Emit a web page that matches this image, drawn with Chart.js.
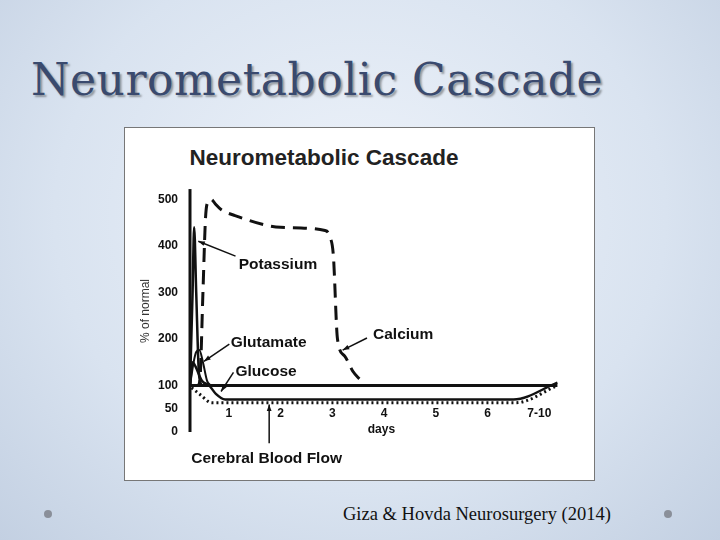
<!DOCTYPE html>
<html><head><meta charset="utf-8">
<script src="https://cdn.jsdelivr.net/npm/chart.js@4/dist/chart.umd.min.js"></script>
<style>
html,body{margin:0;padding:0;width:720px;height:540px;overflow:hidden;}
body{background:radial-gradient(ellipse at 50% 40%,#eef3fa 0%,#d9e3f0 60%,#c3d0e2 100%);position:relative;font-family:"Liberation Sans",Arial,sans-serif;}
#title{position:absolute;left:31px;top:54px;font-family:"DejaVu Serif",serif;font-size:44px;color:#3a4a6e;text-shadow:2px 2px 2px rgba(0,0,0,0.35);white-space:nowrap;letter-spacing:0.5px}
#box{position:absolute;left:124px;top:127px;width:469px;height:352px;background:#fff;border:1px solid #777;}
#ctitle{position:absolute;left:124px;width:400px;top:145px;text-align:center;font-weight:bold;font-size:22.5px;color:#222;}
#foot{position:absolute;left:343px;top:504px;font-family:"Liberation Serif",serif;font-size:18.5px;color:#111;}
.dot{position:absolute;width:8px;height:8px;border-radius:4px;background:#8a8f99;top:510px}
canvas{position:absolute;left:0;top:0}
</style></head><body>
<div id="title">Neurometabolic Cascade</div>
<div id="box"></div>
<div id="ctitle">Neurometabolic Cascade</div>
<div id="foot">Giza &amp; Hovda Neurosurgery (2014)</div>
<div class="dot" style="left:44px"></div><div class="dot" style="left:664px"></div>
<canvas id="c" width="720" height="540"></canvas>
<script>
const yTicks=[0,50,100,200,300,400,500];
const xTickValues=[1,2,3,4,5,6,7];
const xTickLabels=["1","2","3","4","5","6","7-10"];
const baseline=[[0.25,100],[7.35,100]];
const calcium=[[0.25,100],[0.4,100],[0.44,110],[0.5,300],[0.55,460],[0.6,495],[0.66,500],[0.74,490],[0.85,478],[1.12,465],[2,440],[2.86,433],[2.96,418],[3.02,380],[3.1,200],[3.24,163],[3.4,130],[3.57,108],[3.62,100]];
const potassium=[[0.25,100],[0.3,300],[0.33,440],[0.37,300],[0.42,130],[0.47,100]];
const glutamate=[[0.25,100],[0.32,150],[0.37,172],[0.43,176],[0.5,150],[0.58,110],[0.65,100]];
const glucose=[[0.25,100],[0.3,150],[0.36,140],[0.48,110],[0.62,100],[0.75,82],[0.93,70],[6.5,70],[7.35,106]];
const cbf=[[0.28,95],[0.45,80],[0.67,63],[6.55,63],[7.35,100]];
const labels=[
 {t:"Potassium",x:1.95,y:360,ax:[1.13,378,0.41,410]},
 {t:"Glutamate",x:1.77,y:191,ax:[1.01,189,0.52,152]},
 {t:"Glucose",x:1.72,y:130,ax:[1.09,128,0.85,87]},
 {t:"Calcium",x:4.37,y:209,ax:[3.67,202,3.2,176]},
 {t:"Cerebral Blood Flow",x:1.73,y:-57,ax:[1.78,-24,1.78,59]}
];
const pts=a=>a.map(p=>({x:p[0],y:p[1]}));
const ds=(d,o)=>Object.assign({data:pts(d),borderColor:'#111',borderWidth:2.5,pointRadius:0,fill:false,cubicInterpolationMode:'monotone'},o);
const anno={id:'anno',afterDatasetsDraw(ch){
 const c=ch.ctx,xs=ch.scales.x,ys=ch.scales.y;
 c.save();c.fillStyle='#111';c.strokeStyle='#111';
 c.font='bold 15.5px "Liberation Sans",Arial';c.textAlign='center';c.textBaseline='middle';
 labels.forEach(l=>{
  c.fillText(l.t,xs.getPixelForValue(l.x),ys.getPixelForValue(l.y));
  const x1=xs.getPixelForValue(l.ax[0]),y1=ys.getPixelForValue(l.ax[1]),x2=xs.getPixelForValue(l.ax[2]),y2=ys.getPixelForValue(l.ax[3]);
  c.lineWidth=1.5;c.beginPath();c.moveTo(x1,y1);c.lineTo(x2,y2);c.stroke();
  const an=Math.atan2(y2-y1,x2-x1);c.beginPath();c.moveTo(x2,y2);
  c.lineTo(x2-7*Math.cos(an-0.35),y2-7*Math.sin(an-0.35));c.lineTo(x2-7*Math.cos(an+0.35),y2-7*Math.sin(an+0.35));c.closePath();c.fill();
 });
 c.font='bold 12px "Liberation Sans",Arial';
 xTickValues.forEach((v,i)=>c.fillText(xTickLabels[i],xs.getPixelForValue(v),ys.getPixelForValue(40)));
 c.fillText("days",xs.getPixelForValue(3.95),ys.getPixelForValue(5));
 c.lineWidth=3;c.beginPath();c.moveTo(ch.chartArea.left,ch.chartArea.bottom);c.lineTo(ch.chartArea.left,ys.getPixelForValue(522));c.stroke();
 c.restore();
}};
new Chart(document.getElementById('c'),{type:'line',
 data:{datasets:[
  ds(baseline,{borderWidth:3,cubicInterpolationMode:'default'}),
  ds(calcium,{borderDash:[14,8],borderWidth:3}),
  ds(potassium,{borderWidth:2.5}),
  ds(glutamate,{borderWidth:2}),
  ds(glucose,{borderWidth:2.5}),
  ds(cbf,{borderDash:[2,3],borderWidth:3})
 ]},
 options:{responsive:false,animation:false,
  layout:{padding:{left:136,right:160,top:190,bottom:108}},
  plugins:{legend:{display:false},tooltip:{enabled:false}},
  scales:{
   x:{type:'linear',min:0.25,max:7.4,display:false},
   y:{min:0,max:520,border:{display:false},grid:{display:false},
    afterBuildTicks:s=>{s.ticks=yTicks.map(v=>({value:v}));},
    afterFit:s=>{s.width=54;},
    ticks:{color:'#111',font:{family:'"Liberation Sans",Arial',weight:'bold',size:12},padding:4},
    title:{display:true,text:'% of normal',color:'#333',font:{family:'"Liberation Sans",Arial',size:12},padding:2}}
  }},
 plugins:[anno]});
</script></body></html>
